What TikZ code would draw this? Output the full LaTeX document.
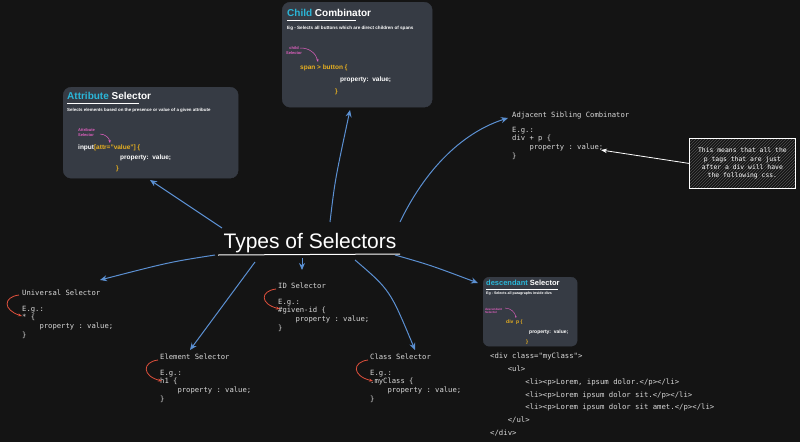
\documentclass[tikz,border=0pt]{standalone}
\usepackage{fontspec}
\setmainfont{Liberation Sans}
\setmonofont{DejaVu Sans Mono}
\usetikzlibrary{arrows.meta,patterns}
\definecolor{bg}{HTML}{141414}
\definecolor{card}{HTML}{363B44}
\definecolor{blu}{HTML}{5B90D2}
\definecolor{cyn}{HTML}{2BB6D8}
\definecolor{ylw}{HTML}{E8B020}
\definecolor{pnk}{HTML}{E060C0}
\definecolor{txt}{HTML}{D8D8D8}
\definecolor{rd}{HTML}{E0503C}
\begin{document}
\begin{tikzpicture}[x=1pt,y=-1pt,
  cardbox/.style={fill=card,rounded corners=8pt,draw=card},
  code/.style={font=\ttfamily\fontsize{7.2}{8.6}\selectfont,text=txt,anchor=north west,inner sep=0,align=left},
  ctxt/.style={anchor=west,inner sep=0,font=\bfseries},
  conn/.style={draw=blu,line width=1pt,-{Stealth[length=7pt,width=6pt]}},
  redarr/.style={draw=rd,line width=0.8pt,-{Stealth[length=4pt]}}]
\fill[bg] (0,0) rectangle (800,442);
\useasboundingbox (0,0) rectangle (800,442);
% child card
\node[cardbox,minimum width=150,minimum height=105,anchor=north west] (child) at (282,2) {};
\node[ctxt,font=\bfseries\fontsize{10}{12}\selectfont] (childt) at (287,13) {\textcolor{cyn}{Child} \textcolor{white}{Combinator}};
\draw[white,line width=0.6pt] (287,20) -- (356,20);
\node[ctxt,text=white,font=\bfseries\fontsize{4.6}{6}\selectfont] (childd) at (287,28) {Eg - Selects all buttons which are direct children of spans};
\node[ctxt,text=pnk,font=\bfseries\fontsize{4}{5}\selectfont,align=center] (childl) at (286,51) {child\\Selector};
\draw[pnk,-{Stealth[length=3pt]},line width=0.5pt] (300,48) to[bend left=40] (318,62);
\node[ctxt,text=ylw,font=\bfseries\fontsize{6.5}{8}\selectfont] (childc) at (300,68) {span > button \{};
\node[ctxt,text=white,font=\bfseries\fontsize{6.5}{8}\selectfont] (childp) at (340,80) {property:\ \ value;};
\node[ctxt,text=ylw,font=\bfseries\fontsize{6.5}{8}\selectfont] (childe) at (335,92) {\}};
% attribute card
\node[cardbox,minimum width=175,minimum height=91,anchor=north west] (attr) at (63,87) {};
\node[ctxt,font=\bfseries\fontsize{10}{12}\selectfont] (attrt) at (67,96) {\textcolor{cyn}{Attribute} \textcolor{white}{Selector}};
\draw[white,line width=0.6pt] (67,103) -- (139,103);
\node[ctxt,text=white,font=\bfseries\fontsize{4.4}{6}\selectfont] (attrd) at (67,110) {Selects elements based on the presence or value of a given attribute};
\node[ctxt,text=pnk,font=\bfseries\fontsize{4}{5}\selectfont,align=left] (attrl) at (78,133) {Attribute\\Selector};
\draw[pnk,-{Stealth[length=3pt]},line width=0.5pt] (100,134) to[bend left=40] (110,143);
\node[ctxt,text=white,font=\bfseries\fontsize{6.5}{8}\selectfont] (attrc) at (78,148) {input\textcolor{ylw}{[attr="value"] \{}};
\node[ctxt,text=white,font=\bfseries\fontsize{6.5}{8}\selectfont] (attrp) at (120,158) {property:\ \ value;};
\node[ctxt,text=ylw,font=\bfseries\fontsize{6.5}{8}\selectfont] (attre) at (116,169) {\}};
% descendant card
\node[cardbox,minimum width=94,minimum height=69,anchor=north west,rounded corners=6pt] (desc) at (483,277) {};
\node[ctxt,font=\bfseries\fontsize{7.5}{9}\selectfont] (desct) at (486,283) {\textcolor{cyn}{descendant} \textcolor{white}{Selector}};
\draw[white,line width=0.5pt] (486,289) -- (558,289);
\node[ctxt,text=white,font=\bfseries\fontsize{3.6}{4}\selectfont] (descd) at (486,294) {Eg - Selects all paragraphs inside divs};
\node[ctxt,text=pnk,font=\bfseries\fontsize{3}{3.5}\selectfont,align=left] (descl) at (485,311) {descendant\\Selector};
\draw[pnk,-{Stealth[length=2pt]},line width=0.4pt] (505,308) to[bend left=40] (516,318);
\node[ctxt,text=ylw,font=\bfseries\fontsize{5}{6}\selectfont] (descc) at (506,322) {div\ \ p \{};
\node[ctxt,text=white,font=\bfseries\fontsize{5}{6}\selectfont] (descp) at (529,332) {property:\ \ value;};
\node[ctxt,text=ylw,font=\bfseries\fontsize{5}{6}\selectfont] (desce) at (526,342) {\}};
% title
\node[text=white,font=\fontsize{21}{24}\selectfont,inner sep=2pt] (title) at (310,243) {Types of Selectors};
\draw[white,line width=1pt] (218,255) -- (400,254);
% code blocks
\node[code] (adj) at (512,112) {Adjacent Sibling Combinator\\[6pt]E.g.:\\div + p \{\\\ \ \ \ property : value;\\\}};
\node[code] (univ) at (22,290) {Universal Selector\\[7pt]E.g.:\\* \{\\\ \ \ \ property : value;\\\}};
\node[code] (elem) at (160,354) {Element Selector\\[7pt]E.g.:\\h1 \{\\\ \ \ \ property : value;\\\}};
\node[code] (id) at (278,283) {ID Selector\\[7pt]E.g.:\\\#given-id \{\\\ \ \ \ property : value;\\\}};
\node[code] (cls) at (370,354) {Class Selector\\[7pt]E.g.:\\.myClass \{\\\ \ \ \ property : value;\\\}};
\node[code,font=\ttfamily\fontsize{7.3}{12.8}\selectfont] (html) at (490,353) {<div class="myClass">\\\ \ \ \ <ul>\\\ \ \ \ \ \ \ \ <li><p>Lorem, ipsum dolor.</p></li>\\\ \ \ \ \ \ \ \ <li><p>Lorem ipsum dolor sit.</p></li>\\\ \ \ \ \ \ \ \ <li><p>Lorem ipsum dolor sit amet.</p></li>\\\ \ \ \ </ul>\\</div>};
% note
\node[draw=white,line width=0.8pt,pattern=north east lines,pattern color=white!25!bg,minimum width=106,minimum height=50,anchor=north west] (note) at (689,138) {};
\node[code,anchor=center,align=center,text=white,font=\ttfamily\fontsize{6.4}{8.2}\selectfont] (notet) at (note.center) {This means that all the\\p tags that are just\\after a div will have\\the following css.};
\coordinate (adjp) at (601,150);
\draw[white,line width=0.8pt,-{Stealth[length=6pt]}] (note.west) -- (adjp);
% red arrows
\draw[redarr] (19,295) .. controls (3,297) and (3,310) .. (22,316);
\draw[redarr] (158,360) .. controls (142,362) and (142,376) .. (162,381);
\draw[redarr] (276,289) .. controls (260,291) and (260,304) .. (280,309);
\draw[redarr] (368,360) .. controls (352,362) and (352,376) .. (373,381);
% connectors
\coordinate (attrend) at (150,180);
\draw[conn] (222,228) -- (attrend);
\draw[conn] (330,222) .. controls (335,180) .. (350,110);
\draw[conn] (400,222) .. controls (430,160) and (470,130) .. (508,118);
\draw[conn] (215,255) .. controls (170,262) .. (100,280);
\draw[conn] (255,262) -- (190,350);
\draw[conn] (302,258) -- (302,270);
\draw[conn] (355,260) .. controls (390,290) .. (415,350);
\draw[conn] (395,255) .. controls (430,265) .. (478,283);
\end{tikzpicture}
\end{document}
